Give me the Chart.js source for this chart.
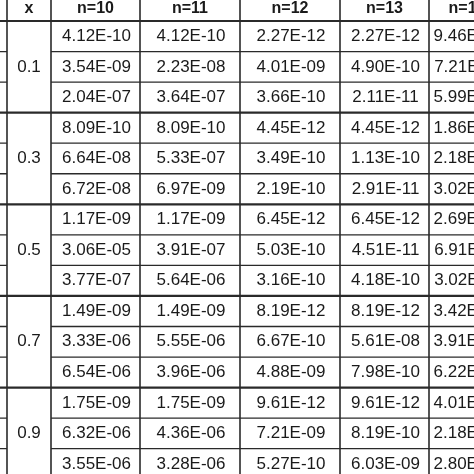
<!DOCTYPE html>
<html>
<head>
<meta charset="utf-8">
<script src="https://cdn.jsdelivr.net/npm/chart.js@4"></script>
<style>
  html, body { margin: 0; padding: 0; background: #fff; }
  #wrap { width: 474px; height: 474px; }
</style>
</head>
<body>
<div id="wrap"><canvas id="table"></canvas></div>
<script>
/***************
 * Table data  *
 ***************/
const headers = ["x", "n=10", "n=11", "n=12", "n=13", "n=14"];
const xValues = ["0.1", "0.3", "0.5", "0.7", "0.9"];
const colN10 = ["4.12E-10","3.54E-09","2.04E-07","8.09E-10","6.64E-08","6.72E-08","1.17E-09","3.06E-05","3.77E-07","1.49E-09","3.33E-06","6.54E-06","1.75E-09","6.32E-06","3.55E-06"];
const colN11 = ["4.12E-10","2.23E-08","3.64E-07","8.09E-10","5.33E-07","6.97E-09","1.17E-09","3.91E-07","5.64E-06","1.49E-09","5.55E-06","3.96E-06","1.75E-09","4.36E-06","3.28E-06"];
const colN12 = ["2.27E-12","4.01E-09","3.66E-10","4.45E-12","3.49E-10","2.19E-10","6.45E-12","5.03E-10","3.16E-10","8.19E-12","6.67E-10","4.88E-09","9.61E-12","7.21E-09","5.27E-10"];
const colN13 = ["2.27E-12","4.90E-10","2.11E-11","4.45E-12","1.13E-10","2.91E-11","6.45E-12","4.51E-11","4.18E-10","8.19E-12","5.61E-08","7.98E-10","9.61E-12","8.19E-10","6.03E-09"];
const colN14 = ["9.46E-14","7.21E-11","5.99E-12","1.86E-13","2.18E-10","3.02E-12","2.69E-13","6.91E-11","3.02E-11","3.42E-13","3.91E-09","6.22E-10","4.01E-13","2.18E-09","2.80E-10"];
const dataColumns = [colN10, colN11, colN12, colN13, colN14];

// layout in pixel-like units of the scales (0..474)
const colEdges = [-40, 7, 51, 140, 240, 340, 429, 520];
const headerBottom = 21;
const rowHeight = 30.55;

function rowTop(i) { return headerBottom + i * rowHeight; }

// one invisible point per cell, so every cell goes through the scales
const cellPoints = [];
dataColumns.forEach((col, c) => {
    col.forEach((v, r) => {
        cellPoints.push({x: c, y: r, text: v});
    });
});

const tablePlugin = {
    id: 'tablePlugin',
    afterDatasetsDraw(chart) {
        const ctx = chart.ctx;
        const xs = chart.scales.x, ys = chart.scales.y;
        const px = v => xs.getPixelForValue(v);
        const py = v => ys.getPixelForValue(v);
        const nRows = xValues.length * 3;
        const bottom = rowTop(nRows);
        ctx.save();
        ctx.strokeStyle = '#2a2a2a';
        ctx.fillStyle = '#1a1a1a';
        ctx.textBaseline = 'middle';

        // horizontal lines
        const hline = (y, x0, x1, w) => {
            ctx.lineWidth = w;
            ctx.beginPath();
            ctx.moveTo(px(x0), py(y));
            ctx.lineTo(px(x1), py(y));
            ctx.stroke();
        };
        hline(headerBottom, colEdges[0], colEdges[7], 2.2);
        for (let r = 1; r <= nRows; ++r) {
            const thick = r % 3 === 0;
            if (thick) {
                hline(rowTop(r), colEdges[0], colEdges[7], 2.2);
            } else {
                hline(rowTop(r), colEdges[0], colEdges[1], 1.3);
                hline(rowTop(r), colEdges[2], colEdges[7], 1.3);
            }
        }
        // vertical lines
        ctx.lineWidth = 1.6;
        colEdges.slice(1, 7).forEach(x => {
            ctx.beginPath();
            ctx.moveTo(px(x), py(0));
            ctx.lineTo(px(x), py(bottom));
            ctx.stroke();
        });

        // header
        ctx.font = 'bold 16px "Liberation Sans", Arial, sans-serif';
        ctx.textAlign = 'center';
        headers.forEach((h, i) => {
            const cx = i < 5 ? (colEdges[i + 1] + colEdges[i + 2]) / 2 : 467;
            ctx.fillText(h, px(cx), py(headerBottom / 2 - 2));
        });

        // x column
        ctx.font = '17px "Liberation Sans", Arial, sans-serif';
        xValues.forEach((v, g) => {
            ctx.fillText(v, px((colEdges[1] + colEdges[2]) / 2), py(rowTop(g * 3 + 1.5)));
        });

        // values
        chart.data.datasets[0].data.forEach(p => {
            const cx = p.x < 4 ? (colEdges[p.x + 2] + colEdges[p.x + 3]) / 2 : 467;
            ctx.fillText(p.text, px(cx + 1), py(rowTop(p.y + 0.5)));
        });
        ctx.restore();
    }
};

new Chart(document.getElementById('table'), {
    type: 'scatter',
    data: {
        datasets: [{
            data: cellPoints,
            pointRadius: 0,
            pointHoverRadius: 0
        }]
    },
    options: {
        responsive: true,
        maintainAspectRatio: false,
        animation: false,
        layout: {padding: 0},
        plugins: {legend: {display: false}, tooltip: {enabled: false}},
        scales: {
            x: {type: 'linear', min: 0, max: 474, display: false},
            y: {type: 'linear', min: 0, max: 474, reverse: true, display: false}
        }
    },
    plugins: [tablePlugin]
});
</script>
</body>
</html>
